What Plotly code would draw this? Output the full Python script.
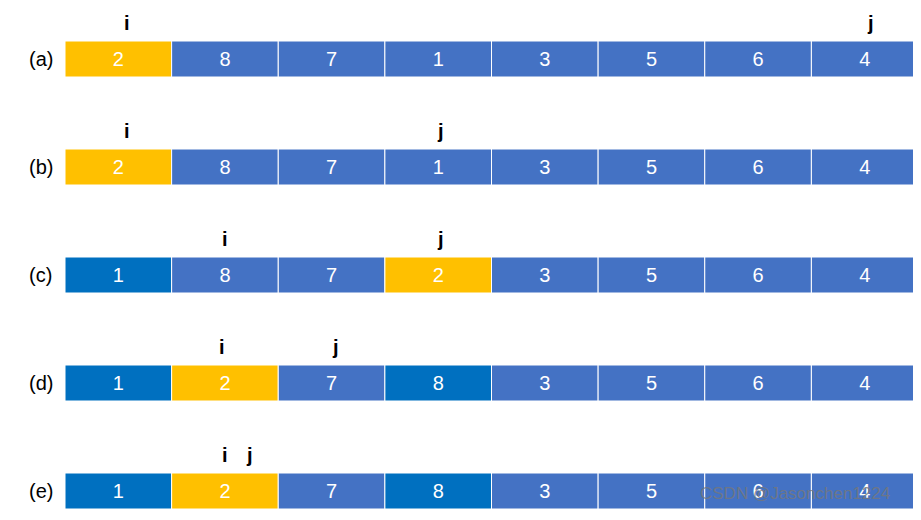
import plotly.graph_objects as go

rows = ["(a)", "(b)", "(c)", "(d)", "(e)"]
values = [
    [2, 8, 7, 1, 3, 5, 6, 4],
    [2, 8, 7, 1, 3, 5, 6, 4],
    [1, 8, 7, 2, 3, 5, 6, 4],
    [1, 2, 7, 8, 3, 5, 6, 4],
    [1, 2, 7, 8, 3, 5, 6, 4],
]
# 0 = normal, 1 = pivot (orange), 2 = placed (dark blue)
states = [
    [1, 0, 0, 0, 0, 0, 0, 0],
    [1, 0, 0, 0, 0, 0, 0, 0],
    [2, 0, 0, 1, 0, 0, 0, 0],
    [2, 1, 0, 2, 0, 0, 0, 0],
    [2, 1, 0, 2, 0, 0, 0, 0],
]
i_pos = [0.58, 0.58, 1.5, 1.47, 1.5]
j_pos = [7.55, 3.52, 3.52, 2.54, 1.73]
palette = {0: "#4472C4", 1: "#FFC000", 2: "#0070C0"}

ys, bases, texts, colors = [], [], [], []
for r, (vals, sts) in enumerate(zip(values, states)):
    for c, (v, s) in enumerate(zip(vals, sts)):
        ys.append(r); bases.append(c); texts.append(str(v)); colors.append(palette[s])

fig = go.Figure(go.Bar(
    orientation="h", y=ys, x=[1]*len(ys), base=bases, width=0.3333,
    text=texts, textposition="inside", insidetextanchor="middle",
    textfont=dict(color="white", size=20, family="Liberation Sans"),
    marker=dict(color=colors, line=dict(color="white", width=1)),
    hoverinfo="skip",
))

ann = []
for r, lab in enumerate(rows):
    ann.append(dict(x=-0.0445, y=r, text=lab, showarrow=False, xref="paper", yref="y",
                    font=dict(size=20, color="black", family="Liberation Sans")))
    ann.append(dict(x=i_pos[r], y=r-0.33, text="<b>i</b>", showarrow=False,
                    font=dict(size=20, color="black", family="Liberation Sans")))
    ann.append(dict(x=j_pos[r], y=r-0.33, text="<b>j</b>", showarrow=False,
                    font=dict(size=20, color="black", family="Liberation Sans")))
ann.append(dict(x=0.97, y=0.045, xref="paper", yref="paper", xanchor="right",
                text="CSDN @Jasonchen1224", showarrow=False,
                font=dict(size=17, color="rgba(120,120,120,0.8)", family="Liberation Sans")))

fig.update_layout(
    width=921, height=520, margin=dict(l=57, r=11, t=0, b=0),
    plot_bgcolor="white", paper_bgcolor="white", showlegend=False,
    xaxis=dict(range=[0, 8], visible=False),
    yaxis=dict(range=[(520-51)/108, -51/108], visible=False),
    annotations=ann,
)
fig.write_html("out.html")
